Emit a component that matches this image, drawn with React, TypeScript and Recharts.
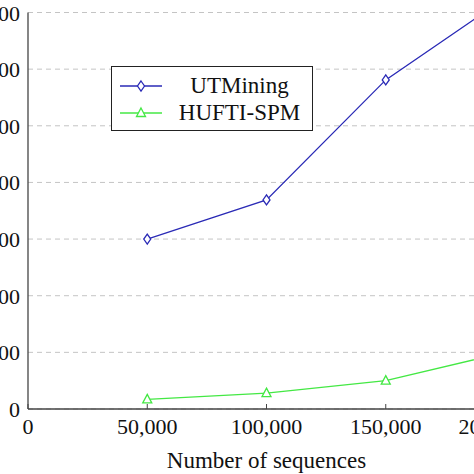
import React from 'react'
import {
  LineChart,
  Line,
  XAxis,
  YAxis,
  CartesianGrid,
  Legend,
} from 'recharts'

const sequenceCounts = [50000, 100000, 150000, 200000]
const utMiningValues = [300, 369, 581, 725]
const huftiSpmValues = [17, 28, 50, 100]
const xTicks = [0, 50000, 100000, 150000, 200000]
const yTicks = [0, 100, 200, 300, 400, 500, 600, 700]

const BLUE = '#2a2ab6'
const GREEN = '#44e844'
const FONT = "'Liberation Serif', 'Times New Roman', Times, serif"

const chartData = sequenceCounts.map((x, i) => ({
  x,
  utmining: utMiningValues[i],
  hufti: huftiSpmValues[i],
}))

const fmt = (v: number) => v.toLocaleString('en-US')

function Diamond({ cx, cy }: any) {
  if (cx == null || cy == null) return null
  return (
    <path
      d={`M${cx},${cy - 5} L${cx + 3.5},${cy} L${cx},${cy + 5} L${cx - 3.5},${cy} Z`}
      fill="#fff"
      stroke={BLUE}
      strokeWidth={1.3}
    />
  )
}

function Triangle({ cx, cy }: any) {
  if (cx == null || cy == null) return null
  return (
    <path
      d={`M${cx},${cy - 5} L${cx + 4.5},${cy + 3.5} L${cx - 4.5},${cy + 3.5} Z`}
      fill="#fff"
      stroke={GREEN}
      strokeWidth={1.3}
    />
  )
}

function LegendBox() {
  const rows = [
    { label: 'UTMining', color: BLUE, Mark: Diamond },
    { label: 'HUFTI-SPM', color: GREEN, Mark: Triangle },
  ]
  return (
    <div
      style={{
        width: 200,
        height: 63,
        border: '1.3px solid #222',
        background: '#fff',
        position: 'relative',
        fontFamily: FONT,
        fontSize: 23,
        color: '#111',
      }}
    >
      {rows.map((r, i) => (
        <div
          key={r.label}
          style={{ position: 'absolute', left: 0, top: 6 + i * 26.5, height: 26, width: 200 }}
        >
          <svg width={56} height={26} style={{ position: 'absolute', left: 0, top: 0 }}>
            <line x1={8} x2={50} y1={13} y2={13} stroke={r.color} strokeWidth={1.3} />
            <r.Mark cx={29} cy={13} />
          </svg>
          <div
            style={{
              position: 'absolute',
              left: 55,
              width: 145,
              textAlign: 'center',
              lineHeight: '26px',
            }}
          >
            {r.label}
          </div>
        </div>
      ))}
    </div>
  )
}

export default function App() {
  return (
    <div
      style={{
        position: 'fixed',
        left: 0,
        top: 0,
        width: 474,
        height: 474,
        overflow: 'hidden',
        background: '#fff',
        fontFamily: FONT,
      }}
    >
      <div style={{ position: 'absolute', left: -60, top: 0 }}>
        <LineChart
          width={590}
          height={474}
          data={chartData}
          margin={{ top: 12.5, right: 25, left: 28, bottom: 0 }}
          style={{ fontFamily: FONT }}
        >
          <CartesianGrid vertical={false} stroke="#c4c4c4" strokeDasharray="5 4" />
          <XAxis
            dataKey="x"
            type="number"
            domain={[0, 200000]}
            ticks={xTicks}
            tickFormatter={fmt}
            height={65}
            stroke="#444"
            axisLine={{ stroke: '#444', strokeWidth: 1.3 }}
            tickSize={-5}
            tickMargin={14}
            tick={{ fill: '#111', fontSize: 22, fontFamily: FONT }}
            label={{
              value: 'Number of sequences',
              position: 'insideBottom',
              offset: 6,
              fill: '#111',
              fontSize: 23,
              fontFamily: FONT,
            }}
          />
          <XAxis
            xAxisId="top"
            orientation="top"
            type="number"
            domain={[0, 200000]}
            ticks={xTicks}
            tickFormatter={() => ''}
            height={0}
            stroke="#444"
            axisLine={{ stroke: '#444', strokeWidth: 1.3 }}
            tickSize={-5}
          />
          <YAxis
            type="number"
            domain={[0, 700]}
            ticks={yTicks}
            allowDataOverflow
            width={60}
            axisLine={{ stroke: '#444', strokeWidth: 1.3 }}
            tickLine={false}
            tickSize={0}
            tickMargin={8}
            tick={{ fill: '#111', fontSize: 22, fontFamily: FONT }}
          />
          <Legend
            layout="horizontal"
            verticalAlign="middle"
            align="center"
            content={() => <LegendBox />}
            wrapperStyle={{ left: 171, top: 66, width: 202, height: 65 }}
          />
          <Line
            dataKey="utmining"
            stroke={BLUE}
            strokeWidth={1.3}
            dot={<Diamond />}
            isAnimationActive={false}
          />
          <Line
            dataKey="hufti"
            stroke={GREEN}
            strokeWidth={1.3}
            dot={<Triangle />}
            isAnimationActive={false}
          />
        </LineChart>
      </div>
    </div>
  )
}
